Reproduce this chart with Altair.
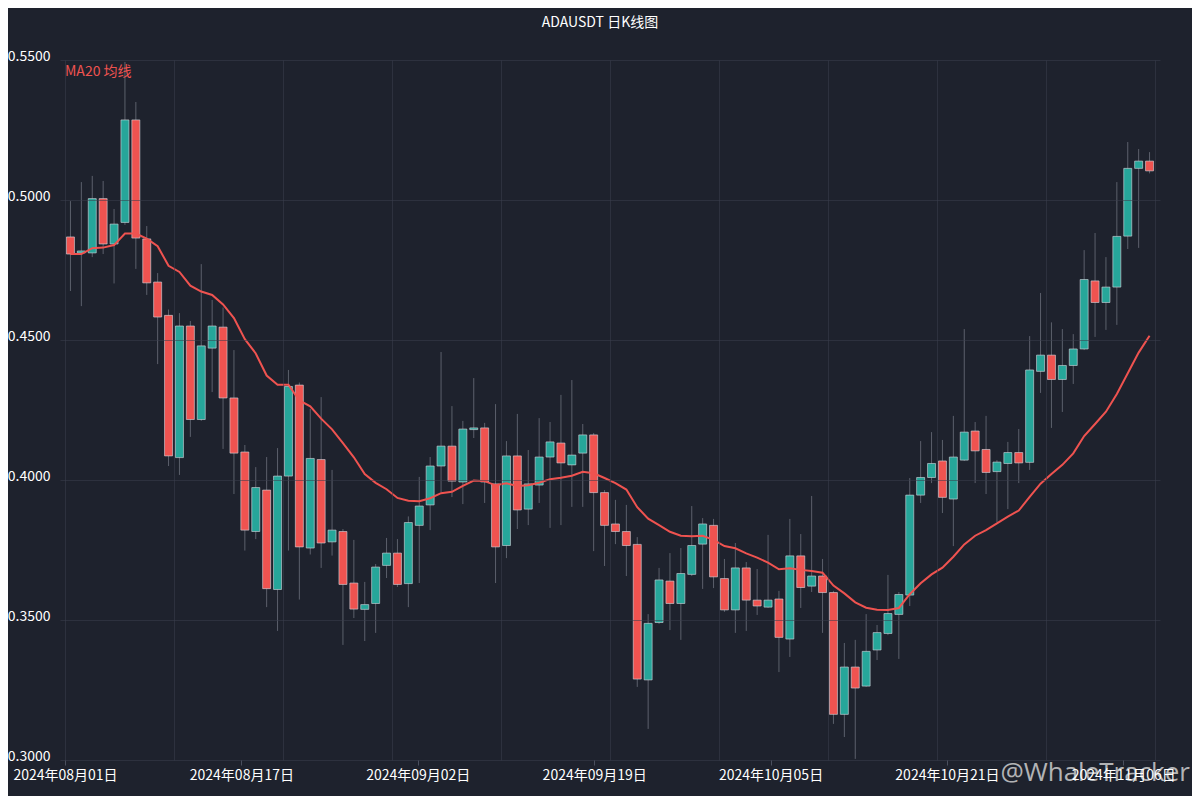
import altair as alt
import pandas as pd

# ---------------- data ----------------
title_text = "ADAUSDT 日K线图"
legend_text = "MA20 均线"
watermark_text = "@WhaleTracker"

opens = [0.4868, 0.4811, 0.4811, 0.5005, 0.4843, 0.4920, 0.5286, 0.4861, 0.4707, 0.4588,
         0.4080, 0.4550, 0.4216, 0.4471, 0.4546, 0.4293, 0.4100, 0.3816, 0.3964, 0.3609,
         0.4014, 0.4339, 0.3757, 0.4073, 0.3779, 0.3816, 0.3632, 0.3538, 0.3559, 0.3695,
         0.3739, 0.3630, 0.3838, 0.3911, 0.4050, 0.4121, 0.3993, 0.4180, 0.4186, 0.3986,
         0.3766, 0.4086, 0.3896, 0.3982, 0.4082, 0.4132, 0.4054, 0.4096, 0.4161, 0.3955,
         0.3843, 0.3816, 0.3770, 0.3286, 0.3491, 0.3639, 0.3559, 0.3663, 0.3771, 0.3838,
         0.3648, 0.3536, 0.3686, 0.3571, 0.3546, 0.3575, 0.3432, 0.3729, 0.3621, 0.3657,
         0.3598, 0.3163, 0.3332, 0.3264, 0.3393, 0.3452, 0.3520, 0.3589, 0.3946, 0.4009,
         0.4068, 0.3932, 0.4071, 0.4175, 0.4109, 0.4030, 0.4059, 0.4098, 0.4063, 0.4388,
         0.4446, 0.4359, 0.4409, 0.4468, 0.4711, 0.4634, 0.4689, 0.4871, 0.5113, 0.5139]
highs = [0.4996, 0.5064, 0.5086, 0.5068, 0.4968, 0.5493, 0.5350, 0.4907, 0.4739, 0.4609,
         0.4596, 0.4568, 0.4771, 0.4643, 0.4616, 0.4464, 0.4125, 0.4046, 0.4082, 0.4114,
         0.4393, 0.4348, 0.4254, 0.4296, 0.4036, 0.3825, 0.3786, 0.3636, 0.3700, 0.3793,
         0.3789, 0.3870, 0.4011, 0.4082, 0.4457, 0.4264, 0.4211, 0.4364, 0.4204, 0.4271,
         0.4139, 0.4236, 0.4107, 0.4221, 0.4207, 0.4304, 0.4357, 0.4200, 0.4168, 0.3964,
         0.3929, 0.3911, 0.3796, 0.3521, 0.3686, 0.3739, 0.3757, 0.3907, 0.3864, 0.3861,
         0.3718, 0.3775, 0.3707, 0.3682, 0.3804, 0.3604, 0.3861, 0.3807, 0.3943, 0.3718,
         0.3604, 0.3418, 0.3429, 0.3521, 0.3482, 0.3661, 0.3600, 0.4007, 0.4139, 0.4171,
         0.4143, 0.4229, 0.4539, 0.4207, 0.4229, 0.4071, 0.4136, 0.4182, 0.4514, 0.4668,
         0.4563, 0.4539, 0.4521, 0.4821, 0.4882, 0.4796, 0.5064, 0.5207, 0.5182, 0.5171]
lows = [0.4675, 0.4621, 0.4796, 0.4807, 0.4702, 0.4911, 0.4754, 0.4661, 0.4414, 0.4050,
        0.4018, 0.4154, 0.4211, 0.4314, 0.4111, 0.3950, 0.3748, 0.3789, 0.3546, 0.3461,
        0.3748, 0.3573, 0.3734, 0.3686, 0.3730, 0.3411, 0.3507, 0.3425, 0.3454, 0.3650,
        0.3618, 0.3546, 0.3632, 0.3821, 0.3957, 0.3939, 0.3914, 0.4150, 0.3918, 0.3632,
        0.3721, 0.3825, 0.3839, 0.3918, 0.3829, 0.3839, 0.3904, 0.3904, 0.3746, 0.3693,
        0.3771, 0.3657, 0.3261, 0.3111, 0.3486, 0.3464, 0.3429, 0.3657, 0.3611, 0.3614,
        0.3529, 0.3454, 0.3461, 0.3518, 0.3543, 0.3314, 0.3368, 0.3543, 0.3600, 0.3454,
        0.3129, 0.3082, 0.3004, 0.3261, 0.3357, 0.3446, 0.3361, 0.3550, 0.3918, 0.3989,
        0.3882, 0.3764, 0.4068, 0.3989, 0.3950, 0.3850, 0.3896, 0.3989, 0.4036, 0.4311,
        0.4186, 0.4243, 0.4343, 0.4464, 0.4511, 0.4536, 0.4554, 0.4825, 0.4829, 0.5095]
closes = [0.4807, 0.4818, 0.5005, 0.4843, 0.4914, 0.5286, 0.4864, 0.4704, 0.4582, 0.4086,
          0.4550, 0.4216, 0.4479, 0.4550, 0.4293, 0.4096, 0.3821, 0.3973, 0.3612, 0.4014,
          0.4334, 0.3761, 0.4077, 0.3775, 0.3821, 0.3627, 0.3539, 0.3555, 0.3689, 0.3739,
          0.3627, 0.3848, 0.3907, 0.4050, 0.4121, 0.3996, 0.4182, 0.4186, 0.3993, 0.3761,
          0.4086, 0.3893, 0.3986, 0.4082, 0.4136, 0.4061, 0.4089, 0.4161, 0.3955, 0.3838,
          0.3816, 0.3766, 0.3289, 0.3488, 0.3643, 0.3559, 0.3666, 0.3766, 0.3843, 0.3654,
          0.3536, 0.3686, 0.3571, 0.3550, 0.3571, 0.3438, 0.3729, 0.3616, 0.3657, 0.3598,
          0.3163, 0.3332, 0.3257, 0.3388, 0.3455, 0.3523, 0.3591, 0.3946, 0.4009, 0.4059,
          0.3938, 0.4082, 0.4171, 0.4104, 0.4027, 0.4064, 0.4098, 0.4061, 0.4393, 0.4446,
          0.4359, 0.4409, 0.4468, 0.4716, 0.4634, 0.4689, 0.4870, 0.5113, 0.5139, 0.5104]
ma20 = [0.4807, 0.4807, 0.4828, 0.4830, 0.4839, 0.4880, 0.4880, 0.4862, 0.4835, 0.4765,
        0.4743, 0.4694, 0.4673, 0.4661, 0.4627, 0.4578, 0.4503, 0.4452, 0.4373, 0.4340,
        0.4340, 0.4284, 0.4263, 0.4219, 0.4181, 0.4132, 0.4081, 0.4021, 0.3990, 0.3967,
        0.3936, 0.3926, 0.3924, 0.3935, 0.3953, 0.3958, 0.3979, 0.3998, 0.3996, 0.3981,
        0.3988, 0.3979, 0.3981, 0.3990, 0.4003, 0.4008, 0.4015, 0.4029, 0.4024, 0.4007,
        0.3989, 0.3966, 0.3903, 0.3862, 0.3839, 0.3815, 0.3801, 0.3799, 0.3801, 0.3786,
        0.3764, 0.3756, 0.3738, 0.3723, 0.3705, 0.3681, 0.3685, 0.3679, 0.3675, 0.3669,
        0.3623, 0.3595, 0.3563, 0.3544, 0.3537, 0.3536, 0.3543, 0.3592, 0.3631, 0.3663,
        0.3687, 0.3726, 0.3770, 0.3801, 0.3821, 0.3845, 0.3869, 0.3891, 0.3940, 0.3987,
        0.4021, 0.4054, 0.4095, 0.4157, 0.4200, 0.4244, 0.4307, 0.4381, 0.4455, 0.4515]

x_tick_pos = [0, 16.18, 32.36, 48.55, 64.73, 80.91, 97.09]
x_tick_labels = ["2024年08月01日", "2024年08月17日", "2024年09月02日", "2024年09月19日",
                 "2024年10月05日", "2024年10月21日", "2024年11月06日"]
x_grid_pos = [0, 10, 20, 30, 40, 50, 60, 70, 80, 90, 100]
y_ticks = [0.30, 0.35, 0.40, 0.45, 0.50, 0.55]

# ---------------- styling ----------------
BG = "#1e222d"
GREEN = "#26a69a"
RED = "#ef5350"
GRID = "#3a3e4c"
FONT = "Noto Sans CJK SC"

df = pd.DataFrame({
    "i": list(range(len(opens))),
    "open": opens, "high": highs, "low": lows, "close": closes, "ma": ma20,
})

x_values = sorted(set(x_grid_pos) | set(x_tick_pos))
label_expr = "".join(
    f"datum.value === {p} ? '{t}' : " for p, t in zip(x_tick_pos, x_tick_labels)
) + "''"
grid_test = " || ".join(f"datum.value === {g}" for g in x_grid_pos)
tick_test = " || ".join(f"datum.value === {p}" for p in x_tick_pos)

x_axis = alt.Axis(
    values=x_values, labelExpr=label_expr, title="",
    grid=True, gridColor=GRID,
    gridOpacity={"condition": {"test": grid_test, "value": 0.55}, "value": 0},
    ticks=True, tickSize=5, tickColor="#4a4f5e",
    tickOpacity={"condition": {"test": tick_test, "value": 1}, "value": 0},
    domain=False, labelColor="#ffffff", labelFont=FONT, labelFontSize=14,
    labelPadding=3, labelFlush=False, labelOverlap=False, labelBound=False, zindex=1,
)
y_axis = alt.Axis(
    values=y_ticks, format=".4f", title="",
    grid=True, gridColor=GRID, gridOpacity=0.55,
    ticks=False, domain=False, labelColor="#ffffff", labelFont=FONT,
    labelFontSize=14, labelPadding=10, labelOffset=-4, zindex=1,
)

x_enc = alt.X("xc:Q", scale=alt.Scale(domain=[0, 100], nice=False, zero=False), axis=x_axis)
y_scale = alt.Scale(domain=[0.30, 0.55], nice=False, zero=False)

base = alt.Chart(df).transform_calculate(xc="datum.i + 0.5")

wicks = base.mark_rule(color="#5c606c", strokeWidth=1).encode(
    x=x_enc,
    y=alt.Y("low:Q", scale=y_scale, axis=y_axis),
    y2="high:Q",
)

bodies = base.mark_bar(size=8, stroke="#d6d9e0", strokeOpacity=0.6, strokeWidth=1).encode(
    x=x_enc,
    y=alt.Y("open:Q", scale=y_scale, axis=y_axis),
    y2="close:Q",
    color=alt.condition("datum.close >= datum.open", alt.value(GREEN), alt.value(RED)),
)

ma_line = base.mark_line(color=RED, strokeWidth=2).encode(
    x=x_enc,
    y=alt.Y("ma:Q", scale=y_scale, axis=y_axis),
)

legend = alt.Chart(pd.DataFrame({"t": [legend_text]})).mark_text(
    align="left", baseline="middle", color=RED, font=FONT, fontSize=14
).encode(text="t:N", x=alt.value(5), y=alt.value(12))

watermark = alt.Chart(pd.DataFrame({"t": [watermark_text]})).mark_text(
    align="right", baseline="middle", color="#d8d8d8", opacity=0.8,
    font="Open Sans", fontSize=26
).encode(text="t:N", x=alt.value(1130), y=alt.value(713))

chart = alt.layer(wicks, bodies, ma_line, legend, watermark).properties(
    width=1100,
    height=700,
    title=alt.TitleParams(
        text=title_text, color="#ffffff", font=FONT, fontSize=14,
        fontWeight="normal", anchor="middle", offset=19, dx=-10,
    ),
    background=BG,
    autosize=alt.AutoSizeParams(type="none"),
    padding={"left": 52, "top": 52, "right": 32, "bottom": 36},
).configure_view(strokeWidth=0)

chart.save("out.html", embed_options={"renderer": "svg", "actions": False})
